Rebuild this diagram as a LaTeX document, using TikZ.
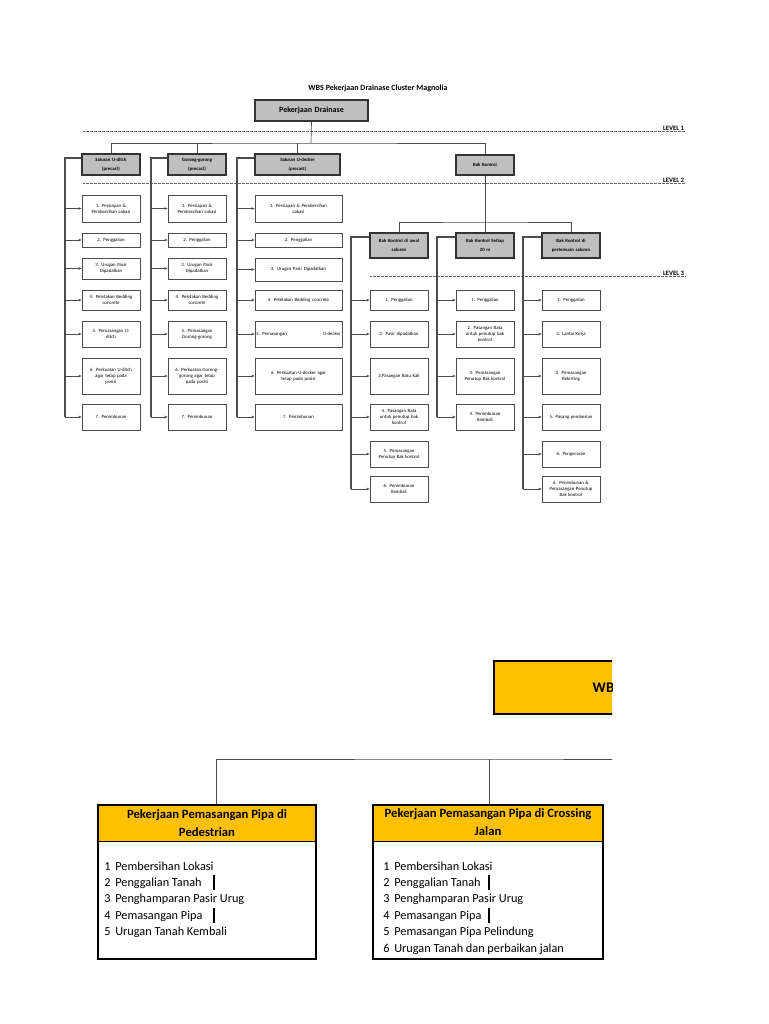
\documentclass[tikz,border=0pt]{standalone}
\usepackage{fontspec}
\setmainfont{Carlito}
\usetikzlibrary{arrows.meta}
\newcommand{\bx}[7][cb]{% style, name, x1,y1,x2,y2, text
  \pgfmathsetmacro{\bw}{(#5-#3)*0.75}\pgfmathsetmacro{\bh}{(#6-#4)*0.75}
  \node[#1,minimum width=\bw pt,minimum height=\bh pt,text width=\bw pt-2pt] (#2) at ({(#3+#5)/2},{(#4+#6)/2}) {#7};}
\begin{document}
\begin{tikzpicture}[x=0.75pt,y=-0.75pt,
  cb/.style={draw=black!70,line width=0.5pt,fill=white,inner sep=0.5pt,align=center,font=\fontsize{3.6}{4.6}\selectfont},
  gb/.style={draw=black!80,line width=0.9pt,fill=black!25,inner sep=0.5pt,align=center,font=\bfseries\fontsize{3.6}{6.5}\selectfont},
  lvl/.style={black!60,dash pattern=on 0.6pt off 0.4pt,line width=0.4pt},
  con/.style={black!70,line width=0.5pt},
  spine/.style={black!70,line width=0.9pt},
  arr/.style={black!70,line width=0.5pt,-{Stealth[length=2.5pt,width=2pt]}},
  lvlt/.style={font=\bfseries\fontsize{5}{6}\selectfont,anchor=south east,inner sep=0.5pt}]
\useasboundingbox (0,0) rectangle (768,1024);
\fill[white] (0,0) rectangle (768,1024);
\node[font=\bfseries\fontsize{6}{7}\selectfont] (title) at (378,88) {WBS Pekerjaan Drainase Cluster Magnolia};
\bx[gb,font=\bfseries\fontsize{6}{7}\selectfont]{root}{255}{100}{368}{121}{Pekerjaan Drainase}
% levels
\draw[lvl] (83,131) -- (685,131); \node[lvlt] (l1) at (685,131) {LEVEL 1};
\draw[lvl] (83,183) -- (685,183); \node[lvlt] (l2) at (685,183) {LEVEL 2};
\draw[lvl] (370,276) -- (685,276); \node[lvlt] (l3) at (685,276) {LEVEL 3};
% level 2 boxes
\bx[gb]{ud}{82}{154}{140}{175}{Saluran U-ditch\\(precast)}
\bx[gb]{gg}{168}{154}{226}{175}{Gorong-gorong\\(precast)}
\bx[gb]{udk}{255}{154}{340}{175}{Saluran U-decker\\(precast)}
\bx[gb]{bk}{456}{155}{514}{175}{Bak Kontrol}
\coordinate (h1) at (311,143);
\draw[con] (root.south) -- (h1);
\draw[con] (ud.north) |- (h1) -| (bk.north);
\draw[con] (gg.north) -- (gg.north |- h1);
\draw[con] (udk.north) -- (udk.north |- h1);
% columns of level 2
\def\ys{{195,233,258,290,321,358,404}}
\def\ye{{222,247,279,310,347,394,430}}
\bx{a1}{82}{195}{140}{222}{1. Persiapan \&\\Pembersihan Lokasi}
\bx{a2}{82}{233}{140}{247}{2. Penggalian}
\bx{a3}{82}{258}{140}{279}{3. Urugan Pasir\\Dipadatkan}
\bx{a4}{82}{290}{140}{310}{4. Peletakan Bedding\\concrete}
\bx{a5}{82}{321}{140}{347}{5. Pemasangan U-\\ditch}
\bx{a6}{82}{358}{140}{394}{6. Perkuatan U-ditch\\agar tetap pada\\posisi}
\bx{a7}{82}{404}{140}{430}{7. Penimbunan}
\bx{b1}{168}{195}{226}{222}{1. Persiapan \&\\Pembersihan Lokasi}
\bx{b2}{168}{233}{226}{247}{2. Penggalian}
\bx{b3}{168}{258}{226}{279}{3. Urugan Pasir\\Dipadatkan}
\bx{b4}{168}{290}{226}{310}{4. Peletakan Bedding\\concrete}
\bx{b5}{168}{321}{226}{347}{5. Pemasangan\\Gorong-gorong}
\bx{b6}{168}{358}{226}{394}{6. Perkuatan Gorong-\\gorong agar tetap\\pada posisi}
\bx{b7}{168}{404}{226}{430}{7. Penimbunan}
\bx{c1}{255}{195}{342}{222}{1. Persiapan \& Pembersihan\\Lokasi}
\bx{c2}{255}{233}{342}{247}{2. Penggalian}
\bx{c3}{255}{258}{342}{281}{3. Urugan Pasir Dipadatkan}
\bx{c4}{255}{290}{342}{310}{4. Peletakan Bedding concrete}
\bx{c5}{255}{321}{342}{347}{5. Pemasangan\hfill U-decker}
\bx{c6}{255}{358}{342}{394}{6. Perkuatan U-decker agar\\tetap pada posisi}
\bx{c7}{255}{404}{342}{430}{7. Penimbunan}
\coordinate (sa) at (65,158); \coordinate (sb) at (151,158); \coordinate (sc) at (237,158);
\draw[spine] (ud.west |- sa) -- (sa) -- (sa |- a7.west);
\draw[spine] (gg.west |- sb) -- (sb) -- (sb |- b7.west);
\draw[spine] (udk.west |- sc) -- (sc) -- (sc |- c7.west);
\foreach \i in {1,...,7}{
  \draw[arr] (sa |- a\i.west) -- (a\i.west);
  \draw[arr] (sb |- b\i.west) -- (b\i.west);
  \draw[arr] (sc |- c\i.west) -- (c\i.west);}
% bak kontrol
\bx[gb]{k1}{370}{233}{428}{258}{Bak Kontrol di awal\\saluran}
\bx[gb]{k2}{456}{233}{514}{258}{Bak Kontrol Setiap\\20 m}
\bx[gb]{k3}{542}{233}{600}{258}{Bak Kontrol di\\pertemuan saluran}
\coordinate (h2) at (485,222);
\draw[con] (bk.south) -- (h2);
\draw[con] (k1.north) |- (h2) -| (k3.north);
\draw[con] (h2) -- (k2.north);
\bx{d1}{370}{290}{428}{310}{1. Penggalian}
\bx{d2}{370}{321}{428}{347}{2. Pasir dipadatkan}
\bx{d3}{370}{358}{428}{394}{3.Pasangan Batu Kali}
\bx{d4}{370}{404}{428}{430}{4. Pasangan Bata\\untuk penutup bak\\kontrol}
\bx{d5}{370}{441}{428}{467}{5. Pemasangan\\Penutup Bak kontrol}
\bx{d6}{370}{476}{428}{502}{6. Penimbunan\\Kembali}
\bx{e1}{456}{290}{514}{310}{1. Penggalian}
\bx{e2}{456}{321}{514}{347}{2. Pasangan Bata\\untuk penutup bak\\kontrol}
\bx{e3}{456}{358}{514}{394}{3. Pemasangan\\Penutup Bak kontrol}
\bx{e4}{456}{404}{514}{430}{4. Penimbunan\\Kembali}
\bx{f1}{542}{290}{600}{310}{1. Penggalian}
\bx{f2}{542}{321}{600}{347}{2. Lantai Kerja}
\bx{f3}{542}{358}{600}{394}{3. Pemasangan\\Bekisting}
\bx{f4}{542}{404}{600}{430}{5. Pasang pembesian}
\bx{f5}{542}{441}{600}{467}{6. Pengecoran}
\bx{f6}{542}{476}{600}{502}{6. Penimbunan \&\\Pemasangan Penutup\\Bak kontrol}
\coordinate (sd) at (351,237); \coordinate (se) at (437,237); \coordinate (sf) at (523,237);
\draw[spine] (k1.west |- sd) -- (sd) -- (sd |- d6.west);
\draw[spine] (k2.west |- se) -- (se) -- (se |- e4.west);
\draw[spine] (k3.west |- sf) -- (sf) -- (sf |- f6.west);
\foreach \i in {1,...,6}{
  \draw[arr] (sd |- d\i.west) -- (d\i.west);
  \draw[arr] (sf |- f\i.west) -- (f\i.west);}
\foreach \i in {1,...,4}{\draw[arr] (se |- e\i.west) -- (e\i.west);}
% bottom part
\begin{scope}
\clip (0,0) rectangle (612,1024);
\fill[fill={rgb,255:red,255;green,192;blue,0},draw=black,line width=1.5pt] (494,661) rectangle (640,714);
\node[font=\bfseries\fontsize{11}{13}\selectfont,anchor=west] (wb) at (588,688) {WBS};
\coordinate (h3) at (489,759);
\draw[con,line width=0.7pt] (216,804) |- (h3) -- (640,759);
\end{scope}
\coordinate (p1) at (216,804);
\draw[con,line width=0.7pt] (h3) -- (489,804);
\fill[fill={rgb,255:red,255;green,192;blue,0}] (98,805) rectangle (316,841);
\fill[fill={rgb,255:red,255;green,192;blue,0}] (373,805) rectangle (603,841);
\draw[black,line width=0.6pt] (98,841) -- (316,841) (373,841) -- (603,841);
\draw[black,line width=1.5pt] (98,805) rectangle (316,959);
\draw[black,line width=1.5pt] (373,805) rectangle (603,959);
\node[font=\bfseries\fontsize{9.5}{13}\selectfont,align=center] (hd1) at (207,823) {Pekerjaan Pemasangan Pipa di\\Pedestrian};
\node[font=\bfseries\fontsize{9.5}{13}\selectfont,align=center] (hd2) at (488,822) {Pekerjaan Pemasangan Pipa di Crossing\\Jalan};
\begin{scope}[every node/.style={font=\fontsize{9.2}{11}\selectfont,anchor=west,inner sep=0pt}]
\node (q1) at (104,866) {1\,\ Pembersihan Lokasi};
\node (q2) at (104,883) {2\,\ Penggalian Tanah};
\node (q3) at (104,899) {3\,\ Penghamparan Pasir Urug};
\node (q4) at (104,916) {4\,\ Pemasangan Pipa};
\node (q5) at (104,932) {5\,\ Urugan Tanah Kembali};
\node (r1) at (383,866) {1\,\ Pembersihan Lokasi};
\node (r2) at (383,883) {2\,\ Penggalian Tanah};
\node (r3) at (383,899) {3\,\ Penghamparan Pasir Urug};
\node (r4) at (383,916) {4\,\ Pemasangan Pipa};
\node (r5) at (383,932) {5\,\ Pemasangan Pipa Pelindung};
\node (r6) at (383,949) {6\,\ Urugan Tanah dan perbaikan jalan};
\end{scope}
\draw[line width=0.8pt] (214,875) -- (214,890) (214,908) -- (214,923) (489,875) -- (489,890) (489,908) -- (489,923);
\end{tikzpicture}
\end{document}
